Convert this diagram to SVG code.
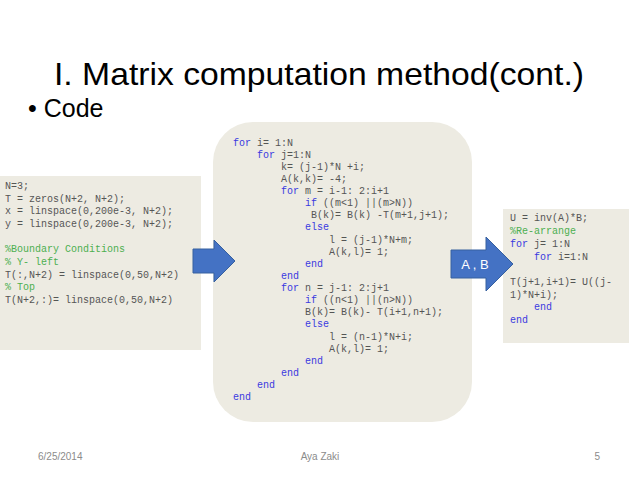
<svg xmlns="http://www.w3.org/2000/svg" width="638" height="478" viewBox="0 0 638 478" xml:space="preserve">
<style>
.c{font-family:"Liberation Mono",monospace;font-size:10px;fill:#555;white-space:pre}
.k{fill:#3a3ae0}.g{fill:#4caf50}
.box{fill:#edebe2}
.arr{fill:#4472c4;stroke:#36609f;stroke-width:1}
.f{font-family:"Liberation Sans",sans-serif;font-size:10px;fill:#8b8b8b}
</style>
<rect width="638" height="478" fill="#fff"/>
<text x="319" y="85" text-anchor="middle" font-family="Liberation Sans,sans-serif" font-size="32" fill="#000" textLength="530" lengthAdjust="spacingAndGlyphs">I. Matrix computation method(cont.)</text>
<text x="28" y="117" font-family="Liberation Sans,sans-serif" font-size="25" fill="#000">• Code</text>
<g id="left">
<rect class="box" x="0" y="176" width="201" height="174"/>
<text class="c" x="5" y="189">N=3;</text>
<text class="c" x="5" y="202">T = zeros(N+2, N+2);</text>
<text class="c" x="5" y="214">x = linspace(0,200e-3, N+2);</text>
<text class="c" x="5" y="227">y = linspace(0,200e-3, N+2);</text>
<text class="c g" x="5" y="252">%Boundary Conditions</text>
<text class="c g" x="5" y="265">% Y- left</text>
<text class="c" x="5" y="278">T(:,N+2) = linspace(0,50,N+2)</text>
<text class="c g" x="5" y="290">% Top</text>
<text class="c" x="5" y="303">T(N+2,:)= linspace(0,50,N+2)</text>
</g>
<g id="middle">
<rect class="box" x="213" y="122" width="259" height="300" rx="40"/>
<text class="c" x="233" y="146"><tspan class="k">for</tspan> i= 1:N</text>
<text class="c" x="233" y="158">    <tspan class="k">for</tspan> j=1:N</text>
<text class="c" x="233" y="170">        k= (j-1)*N +i;</text>
<text class="c" x="233" y="182">        A(k,k)= -4;</text>
<text class="c" x="233" y="194">        <tspan class="k">for</tspan> m = i-1: 2:i+1</text>
<text class="c" x="233" y="206">            <tspan class="k">if</tspan> ((m&lt;1) ||(m&gt;N))</text>
<text class="c" x="233" y="218">             B(k)= B(k) -T(m+1,j+1);</text>
<text class="c" x="233" y="230">            <tspan class="k">else</tspan></text>
<text class="c" x="233" y="243">                l = (j-1)*N+m;</text>
<text class="c" x="233" y="255">                A(k,l)= 1;</text>
<text class="c" x="233" y="267">            <tspan class="k">end</tspan></text>
<text class="c" x="233" y="279">        <tspan class="k">end</tspan></text>
<text class="c" x="233" y="291">        <tspan class="k">for</tspan> n = j-1: 2:j+1</text>
<text class="c" x="233" y="303">            <tspan class="k">if</tspan> ((n&lt;1) ||(n&gt;N))</text>
<text class="c" x="233" y="315">            B(k)= B(k)- T(i+1,n+1);</text>
<text class="c" x="233" y="327">            <tspan class="k">else</tspan></text>
<text class="c" x="233" y="340">                l = (n-1)*N+i;</text>
<text class="c" x="233" y="352">                A(k,l)= 1;</text>
<text class="c" x="233" y="364">            <tspan class="k">end</tspan></text>
<text class="c" x="233" y="376">        <tspan class="k">end</tspan></text>
<text class="c" x="233" y="388">    <tspan class="k">end</tspan></text>
<text class="c" x="233" y="400"><tspan class="k">end</tspan></text>
</g>
<g id="right">
<rect class="box" x="503" y="209" width="126" height="134"/>
<text class="c" x="510" y="221">U = inv(A)*B;</text>
<text class="c g" x="510" y="234">%Re-arrange</text>
<text class="c" x="510" y="247"><tspan class="k">for</tspan> j= 1:N</text>
<text class="c" x="510" y="260">    <tspan class="k">for</tspan> i=1:N</text>
<text class="c" x="510" y="285">T(j+1,i+1)= U((j-</text>
<text class="c" x="510" y="298">1)*N+i);</text>
<text class="c k" x="510" y="310">    end</text>
<text class="c k" x="510" y="323">end</text>
</g>
<g id="connectors">
<path class="arr" d="M193,249 H214 V240 L235,261 L214,282 V273 H193 Z"/>
<path class="arr" d="M451,250 H486 V237 L513,264 L486,291 V278 H451 Z"/>
<text x="475" y="269" text-anchor="middle" font-family="Liberation Sans,sans-serif" font-size="13" fill="#fff">A , B</text>
</g>
<text class="f" x="38" y="460">6/25/2014</text>
<text class="f" x="320" y="460" text-anchor="middle">Aya Zaki</text>
<text class="f" x="600" y="460" text-anchor="end">5</text>
</svg>
